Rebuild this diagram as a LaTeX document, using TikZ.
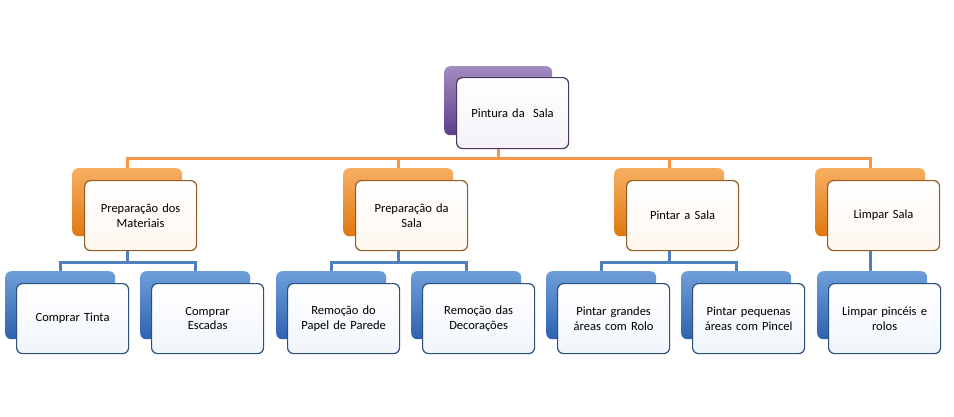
\documentclass[tikz,border=0pt]{standalone}
\usepackage{fontspec}
\setmainfont{Carlito}
\usetikzlibrary{backgrounds}
\definecolor{pur}{HTML}{7A5AA6}
\definecolor{purd}{HTML}{5E3F8C}
\definecolor{ora}{HTML}{F59A3A}
\definecolor{orad}{HTML}{E07810}
\definecolor{blu}{HTML}{4A86D0}
\definecolor{blud}{HTML}{2E62B0}
\definecolor{oline}{HTML}{F79646}
\definecolor{bline}{HTML}{4F81BD}
\tikzset{
 backbox/.style={rounded corners=6pt, minimum width=110pt, minimum height=68pt, inner sep=0pt, anchor=north west},
 frontbox/.style={rounded corners=6pt, minimum width=112pt, minimum height=70pt, inner sep=2pt, anchor=north west, draw=#1!60!black, line width=1.2pt, top color=white, bottom color=#1!8, align=center, font=\fontsize{12.5}{14.5}\selectfont, text width=108pt},
 oconn/.style={draw=oline, line width=3pt},
 bconn/.style={draw=bline, line width=3pt},
}
\begin{document}
\begin{tikzpicture}[x=1pt,y=-1pt]
\useasboundingbox (0,0) rectangle (954,416);
% top
\node[backbox, top color=pur!70, bottom color=purd, minimum width=108pt, minimum height=69pt] (tb) at (444,66) {};
\node[frontbox=pur, minimum width=108pt, minimum height=71pt] (tf) at (456,77) {Pintura da\ \ Sala};
% level 2
\foreach \n/\x/\lbl in {a/72/{Preparação dos\\Materiais}, b/343/{Preparação da\\Sala}, c/614/{Pintar a Sala}, d/815/{Limpar Sala}}{
 \node[backbox, top color=ora!80, bottom color=orad] (\n b) at (\x,168) {};
 \node[frontbox=ora] (\n f) at ({\x+12},180) {\lbl};
}
% level 3
\foreach \n/\x/\lbl in {a1/5/{Comprar Tinta}, a2/140/{Comprar\\Escadas}, b1/276/{Remoção do\\Papel de Parede}, b2/411/{Remoção das\\Decorações}, c1/546/{Pintar grandes\\áreas com Rolo}, c2/681/{Pintar pequenas\\áreas com Pincel}, d1/817/{Limpar pincéis e\\rolos}}{
 \node[backbox, top color=blu!80, bottom color=blud] (\n b) at (\x,271) {};
 \node[frontbox=blu] (\n f) at ({\x+11},283) {\lbl};
}
\begin{scope}[on background layer]
\coordinate (h1) at (0,158);
\coordinate (h2) at (0,262);
\foreach \n in {a,b,c,d}{
 \draw[oconn] (tb.center) -- (tb.center |- h1) -| (\n b.north);
}
\foreach \p/\n in {a/a1,a/a2,b/b1,b/b2,c/c1,c/c2}{
 \draw[bconn] (\p b.center) -- (\p b.center |- h2) -| (\n b.north);
}
\draw[bconn] (db.center) -- (d1b.north -| db.center);
\end{scope}
\end{tikzpicture}
\end{document}
